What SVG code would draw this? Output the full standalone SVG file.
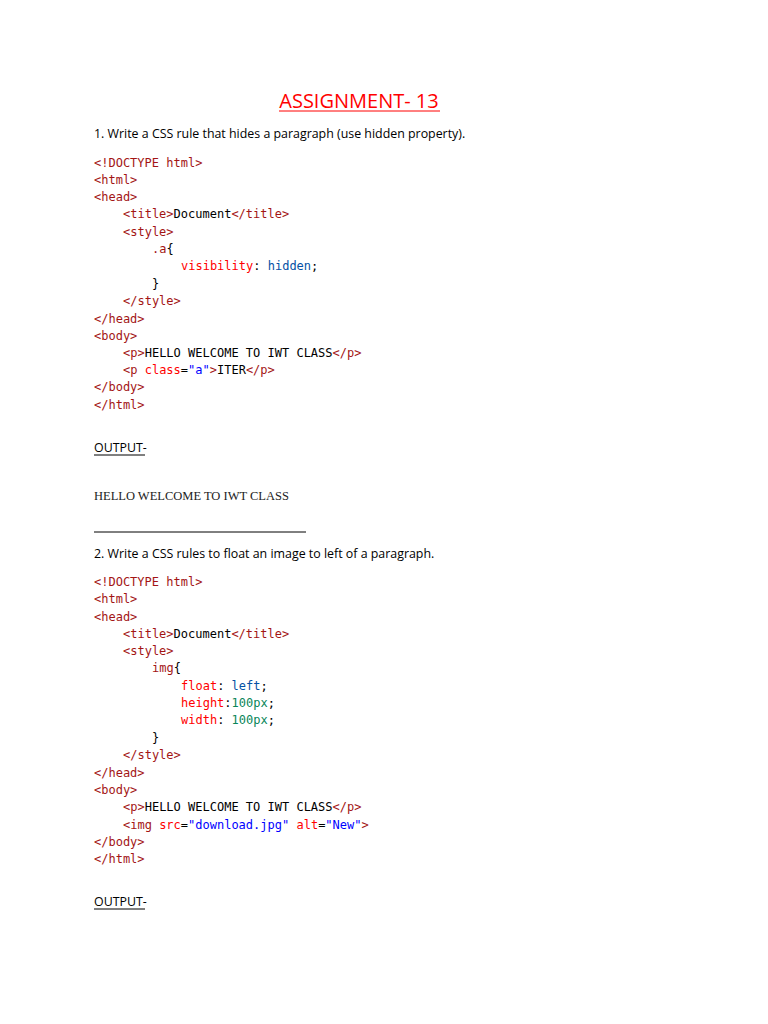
<svg xmlns="http://www.w3.org/2000/svg" width="768" height="1024" viewBox="0 0 768 1024">
<style>
.b{font-family:"Open Sans","Liberation Sans",sans-serif;font-size:12.4px;fill:#000}
.c{font-family:"DejaVu Sans Mono","Liberation Mono",monospace;font-size:12px;fill:#000}
.t{fill:#a31515}.r{fill:#ff0000}.u{fill:#0000ff}.v{fill:#0451a5}.n{fill:#098658}
</style>
<rect width="768" height="1024" fill="#fff"/>
<text x="359" y="108" text-anchor="middle" font-family="'Open Sans','Liberation Sans',sans-serif" font-size="20" fill="#ff0000">ASSIGNMENT- 13</text>
<line x1="279" y1="111" x2="440" y2="111" stroke="#ff0000" stroke-width="1"/>
<text class="b" x="94" y="138">1. Write a CSS rule that hides a paragraph (use hidden property).</text>
<g class="c" xml:space="preserve">
<text x="94" y="167"><tspan class="t">&lt;!DOCTYPE html&gt;</tspan></text>
<text x="94" y="184"><tspan class="t">&lt;html&gt;</tspan></text>
<text x="94" y="201"><tspan class="t">&lt;head&gt;</tspan></text>
<text x="123" y="218"><tspan class="t">&lt;title&gt;</tspan>Document<tspan class="t">&lt;/title&gt;</tspan></text>
<text x="123" y="236"><tspan class="t">&lt;style&gt;</tspan></text>
<text x="152" y="253"><tspan class="t">.a</tspan>{</text>
<text x="181" y="270"><tspan class="r">visibility</tspan>: <tspan class="v">hidden</tspan>;</text>
<text x="152" y="288">}</text>
<text x="123" y="305"><tspan class="t">&lt;/style&gt;</tspan></text>
<text x="94" y="323"><tspan class="t">&lt;/head&gt;</tspan></text>
<text x="94" y="340"><tspan class="t">&lt;body&gt;</tspan></text>
<text x="123" y="357"><tspan class="t">&lt;p&gt;</tspan>HELLO WELCOME TO IWT CLASS<tspan class="t">&lt;/p&gt;</tspan></text>
<text x="123" y="374"><tspan class="t">&lt;p </tspan><tspan class="r">class</tspan>=<tspan class="u">"a"</tspan><tspan class="t">&gt;</tspan>ITER<tspan class="t">&lt;/p&gt;</tspan></text>
<text x="94" y="391"><tspan class="t">&lt;/body&gt;</tspan></text>
<text x="94" y="409"><tspan class="t">&lt;/html&gt;</tspan></text>
</g>
<text class="b" x="94" y="452">OUTPUT-</text>
<line x1="94" y1="455" x2="145" y2="455" stroke="#000" stroke-width="1"/>
<text x="94" y="500" font-family="'Liberation Serif',serif" font-size="12.5" fill="#222">HELLO WELCOME TO IWT CLASS</text>
<line x1="94" y1="532" x2="306" y2="532" stroke="#000" stroke-width="1"/>
<text class="b" x="94" y="558">2. Write a CSS rules to float an image to left of a paragraph.</text>
<g class="c" xml:space="preserve">
<text x="94" y="586"><tspan class="t">&lt;!DOCTYPE html&gt;</tspan></text>
<text x="94" y="603"><tspan class="t">&lt;html&gt;</tspan></text>
<text x="94" y="621"><tspan class="t">&lt;head&gt;</tspan></text>
<text x="123" y="638"><tspan class="t">&lt;title&gt;</tspan>Document<tspan class="t">&lt;/title&gt;</tspan></text>
<text x="123" y="655"><tspan class="t">&lt;style&gt;</tspan></text>
<text x="152" y="672"><tspan class="t">img</tspan>{</text>
<text x="181" y="690"><tspan class="r">float</tspan>: <tspan class="v">left</tspan>;</text>
<text x="181" y="707"><tspan class="r">height</tspan>:<tspan class="n">100px</tspan>;</text>
<text x="181" y="724"><tspan class="r">width</tspan>: <tspan class="n">100px</tspan>;</text>
<text x="152" y="742">}</text>
<text x="123" y="759"><tspan class="t">&lt;/style&gt;</tspan></text>
<text x="94" y="777"><tspan class="t">&lt;/head&gt;</tspan></text>
<text x="94" y="794"><tspan class="t">&lt;body&gt;</tspan></text>
<text x="123" y="811"><tspan class="t">&lt;p&gt;</tspan>HELLO WELCOME TO IWT CLASS<tspan class="t">&lt;/p&gt;</tspan></text>
<text x="123" y="829"><tspan class="t">&lt;img </tspan><tspan class="r">src</tspan>=<tspan class="u">"download.jpg"</tspan> <tspan class="r">alt</tspan>=<tspan class="u">"New"</tspan><tspan class="t">&gt;</tspan></text>
<text x="94" y="846"><tspan class="t">&lt;/body&gt;</tspan></text>
<text x="94" y="863"><tspan class="t">&lt;/html&gt;</tspan></text>
</g>
<text class="b" x="94" y="906">OUTPUT-</text>
<line x1="94" y1="909" x2="145" y2="909" stroke="#000" stroke-width="1"/>
</svg>
